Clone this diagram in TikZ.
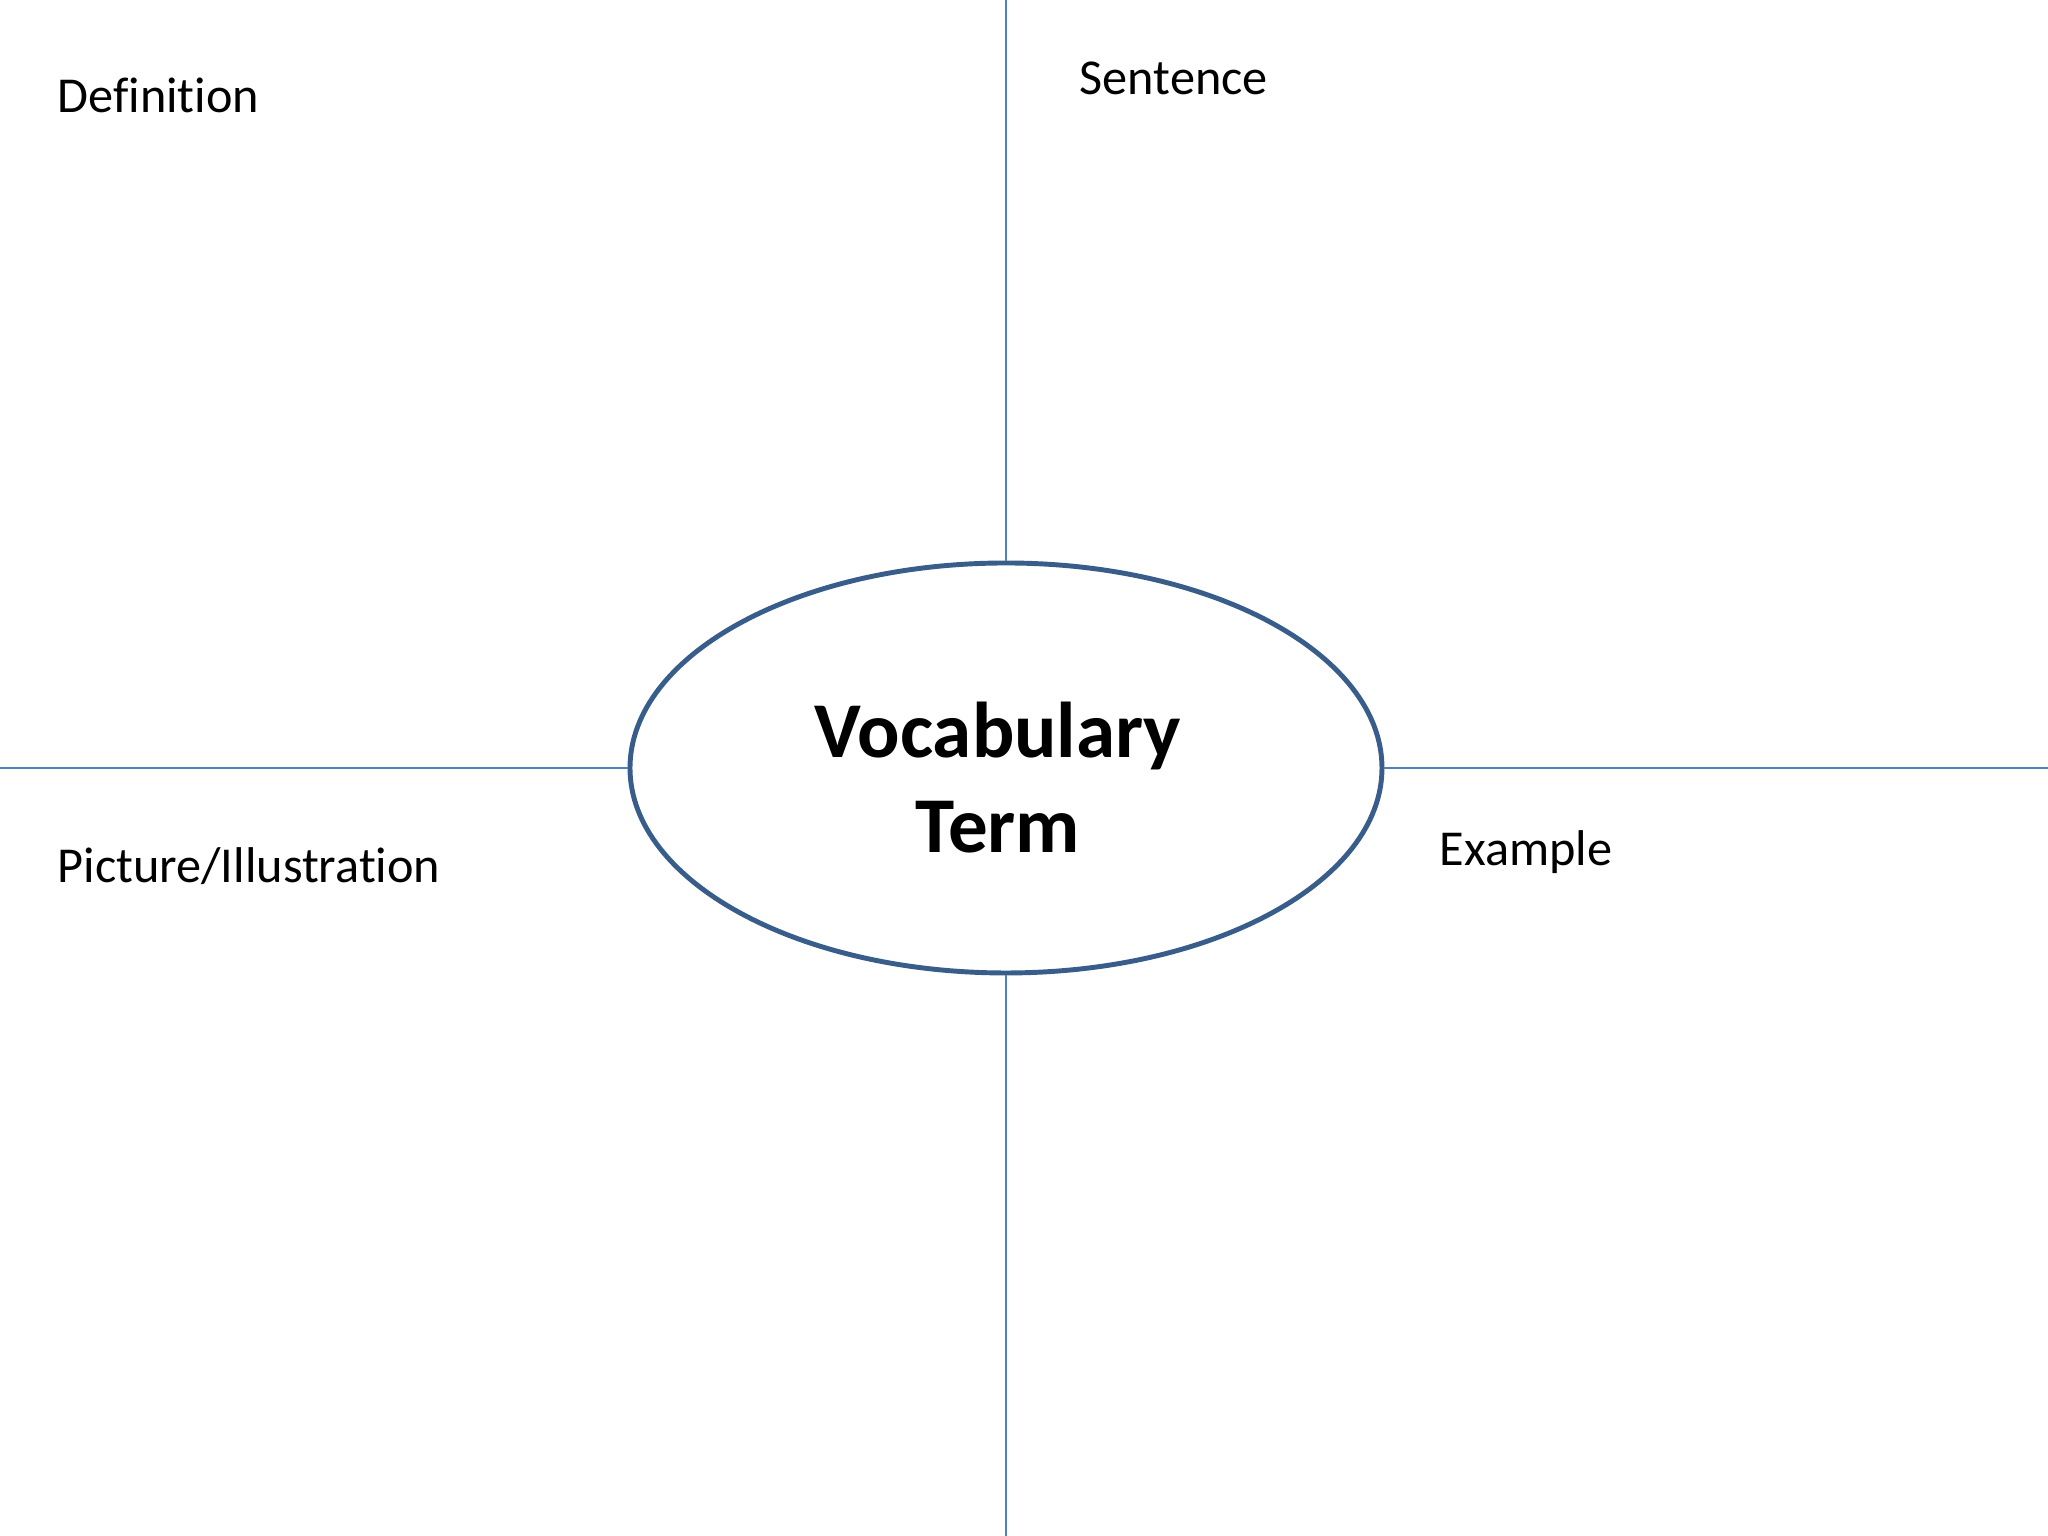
\documentclass[tikz,border=0pt]{standalone}
\usepackage{fontspec}
\setmainfont[Ligatures=NoCommon]{Carlito}
\usepackage{tikz}
\usetikzlibrary{shapes.geometric}
\definecolor{quadblue}{HTML}{4F81BD}
\definecolor{ringblue}{HTML}{385D8A}
\tikzset{
  quadline/.style={quadblue, line width=0.5pt},
  heading/.style={anchor=base west, inner sep=0pt, font=\fontsize{14.3}{17}\selectfont},
}
\begin{document}
\begin{tikzpicture}

 \useasboundingbox [fill=white] (0,0) rectangle (20.48,15.36);

 \node (vocab) at (10.06, 7.68) [ellipse, draw=ringblue, line width=1.4pt, fill=white,
   minimum width=7.52cm, minimum height=4.10cm, inner sep=0pt] {};
 \node (term) at ([xshift=-0.08cm, yshift=-0.10cm]vocab.center) [align=center, inner sep=0pt,
   font=\bfseries\fontsize{22.5}{27}\selectfont] {Vocabulary\\Term};

 \coordinate (top) at (10.06, 15.36);
 \coordinate (bottom) at (10.06, 0);
 \coordinate (left) at (0, 7.68);
 \coordinate (right) at (20.48, 7.68);

 \draw [quadline] (vocab.north) -- (top);
 \draw [quadline] (vocab.south) -- (bottom);
 \draw [quadline] (vocab.west) -- (left);
 \draw [quadline] (vocab.east) -- (right);

 \node (definition) at (0.57, 14.23) [heading] {Definition};
 \node (sentence) at (10.79, 14.41) [heading] {Sentence};
 \node (picture) at (0.57, 6.53) [heading] {Picture/Illustration};
 \node (example) at (14.39, 6.70) [heading] {Example};

\end{tikzpicture}
\end{document}
